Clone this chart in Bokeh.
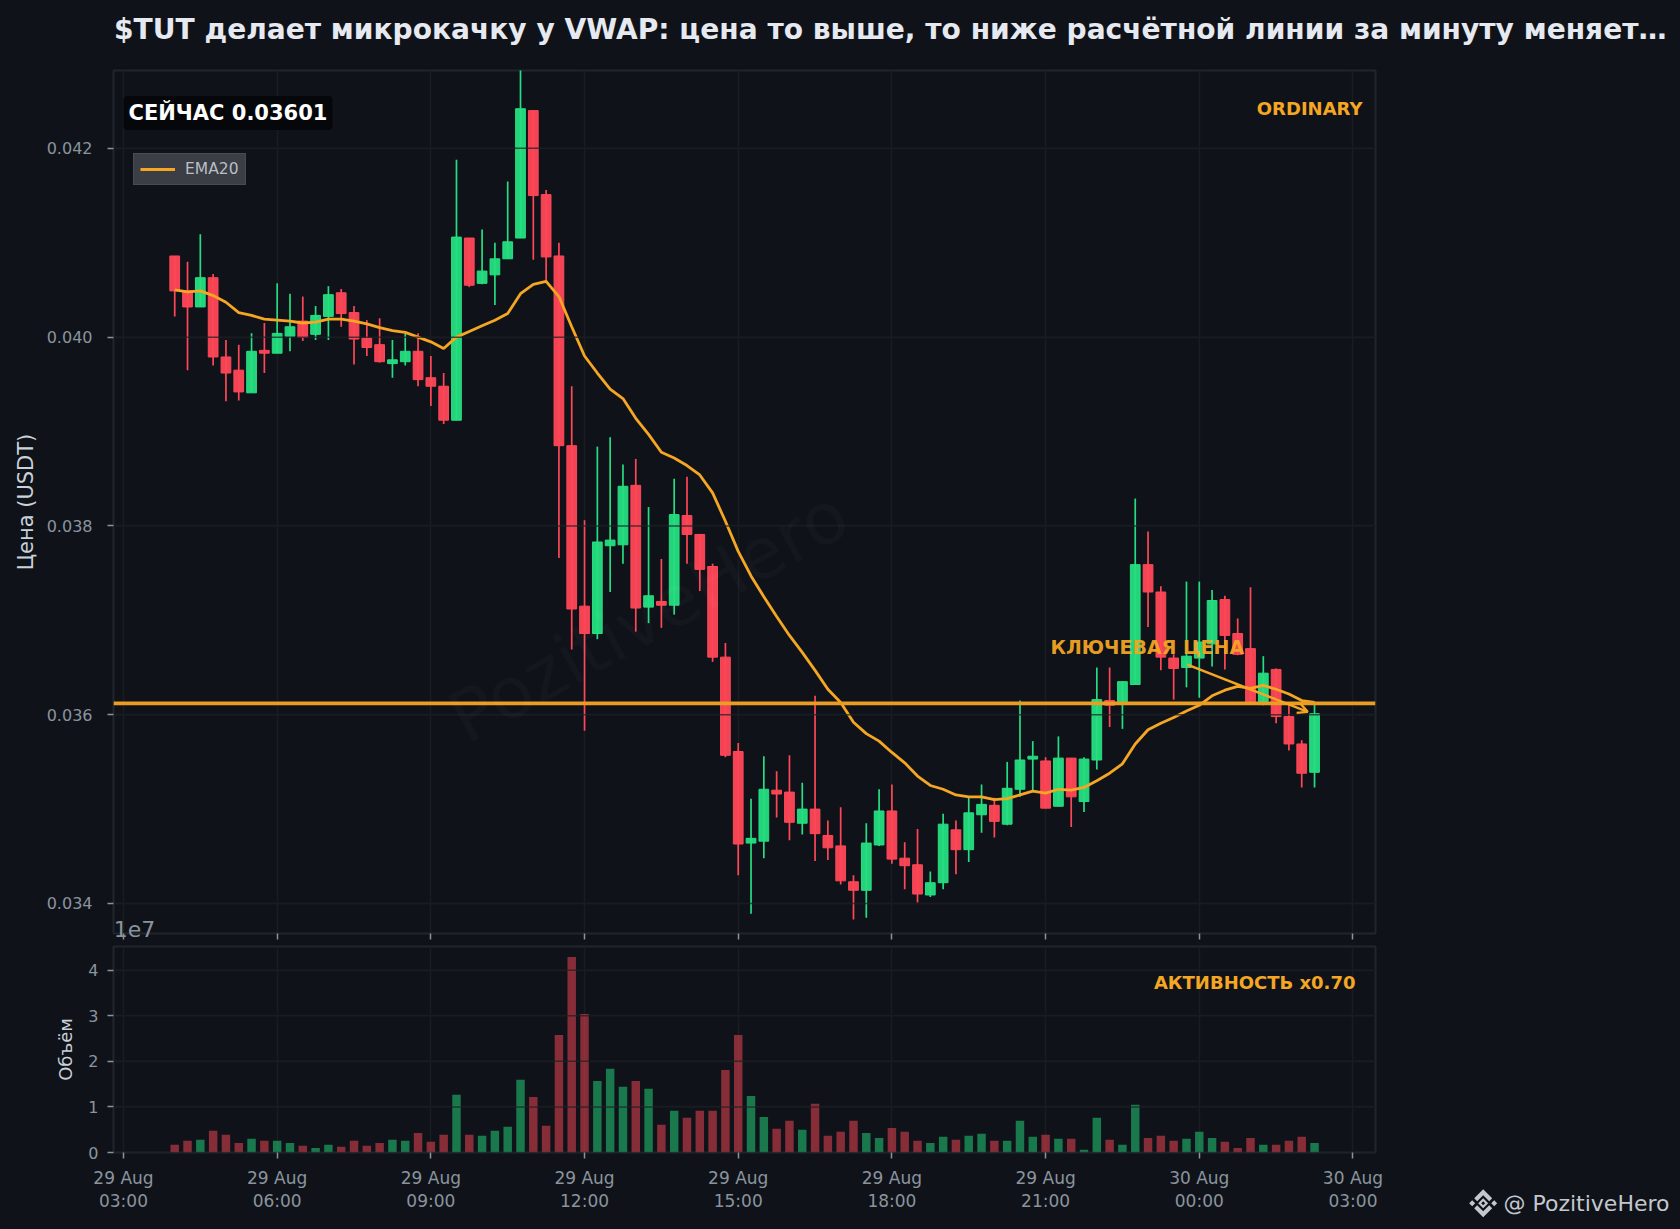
from datetime import datetime
from math import pi
from bokeh.core.properties import value
from bokeh.embed import file_html
from bokeh.layouts import column, row
from bokeh.models import (Arrow, ColumnDataSource, FixedTicker, Label, Legend, LegendItem,
                          OpenHead, Range1d, Span)
from bokeh.plotting import figure
from bokeh.resources import INLINE

# ---- data (prices in 1e-5 USDT, volumes in 1e7) ----
TITLE = "$TUT делает микрокачку у VWAP: цена то выше, то ниже расчётной линии за минуту меняет…"
OPEN = [4086,4049,4032,4063,3979,3965,3941,3986,3983,4001,4017,4003,4022,4047,4026,3999,3992,3972,3974,3985,
        3957,3948,3912,4105,4057,4066,4083,4105,4240,4151,4086,3885,3715,3686,3779,3780,3843,3714,3720,3716,
        3811,3791,3757,3661,3561,3464,3466,3520,3518,3485,3500,3472,3461,3423,3414,3462,3498,3448,3441,3409,
        3422,3478,3457,3494,3504,3484,3521,3553,3551,3503,3554,3508,3552,3615,3612,3632,3759,3730,3660,3650,
        3660,3675,3722,3686,3670,3614,3648,3598,3569,3539]
HIGH = [4086,4080,4109,4067,3997,3992,4004,4015,4057,4046,4043,4033,4054,4051,4033,4018,4020,3997,4004,4004,
        3980,3962,4188,4105,4114,4100,4165,4283,4240,4156,4100,3948,3806,3884,3894,3865,3871,3820,3765,3850,
        3852,3791,3760,3676,3570,3511,3556,3540,3557,3528,3620,3488,3502,3430,3485,3521,3526,3465,3479,3434,
        3495,3488,3512,3526,3512,3550,3615,3572,3555,3577,3554,3555,3650,3650,3635,3829,3794,3736,3664,3741,
        3741,3732,3726,3702,3735,3662,3649,3612,3573,3612]
LOW = [4022,3965,4032,3970,3932,3933,3941,3962,3983,3985,3996,3997,3997,4011,3971,3980,3973,3957,3970,3948,
       3927,3908,3912,4053,4056,4034,4083,4105,4082,4059,3766,3669,3583,3680,3730,3760,3688,3697,3692,3706,
       3760,3731,3656,3555,3430,3389,3448,3491,3467,3473,3445,3446,3420,3383,3385,3461,3442,3415,3401,3407,
       3415,3431,3444,3475,3470,3483,3513,3519,3501,3503,3481,3497,3542,3587,3585,3632,3693,3647,3616,3629,
       3618,3651,3648,3663,3613,3610,3591,3562,3523,3523]
CLOSE = [4049,4032,4063,3979,3962,3942,3985,3983,4004,4011,4000,4023,4045,4025,3998,3989,3974,3976,3985,3955,
         3948,3912,4106,4055,4070,4083,4101,4242,4150,4085,3885,3712,3686,3783,3785,3842,3713,3726,3716,3812,
         3791,3754,3661,3557,3463,3469,3521,3516,3486,3500,3474,3459,3424,3414,3464,3498,3447,3440,3410,3422,
         3484,3457,3496,3505,3487,3522,3552,3556,3501,3554,3513,3553,3616,3610,3635,3759,3730,3661,3649,3662,
         3677,3721,3684,3664,3613,3644,3598,3569,3538,3601]
EMA20 = [4050,4048,4049,4044,4037,4026,4023,4019,4018,4017,4015,4016,4019,4019,4017,4014,4010,4007,4005,4000,
         3995,3988,4000,4006,4012,4018,4025,4046,4056,4059,4043,4011,3980,3962,3945,3935,3914,3897,3878,3872,
         3864,3854,3835,3805,3773,3747,3725,3704,3684,3666,3647,3627,3613,3592,3580,3572,3560,3549,3535,3525,
         3521,3515,3513,3513,3510,3511,3515,3519,3517,3521,3520,3523,3530,3538,3548,3569,3584,3591,3597,3604,
         3610,3620,3626,3630,3628,3631,3627,3622,3615,3613]
VOLUME = [.17,.26,.28,.475,.39,.21,.30,.26,.26,.21,.146,.10,.17,.124,.26,.146,.21,.28,.26,.43,
          .234,.39,1.265,.39,.366,.475,.563,1.594,1.22,.585,2.58,4.29,3.04,1.57,1.835,1.44,1.57,1.40,.607,.914,
          .76,.914,.914,1.81,2.58,1.24,.78,.52,.695,.497,1.07,.366,.453,.695,.43,.32,.54,.453,.256,.21,
          .344,.278,.366,.41,.256,.256,.695,.344,.39,.30,.30,.058,.76,.278,.168,1.046,.32,.366,.256,.30,
          .453,.32,.234,.10,.32,.168,.168,.256,.344,.21]
KEY_PRICE = 3612
ARROW_FROM = (79.07, 3653)
ARROW_TO = (88.47, 3603)
Y_TICKS = [0.034, 0.036, 0.038, 0.040, 0.042]
VOL_TICKS = [0, 1, 2, 3, 4]
X_TICK_LABELS = ["29 Aug\n03:00", "29 Aug\n06:00", "29 Aug\n09:00", "29 Aug\n12:00", "29 Aug\n15:00",
                 "29 Aug\n18:00", "29 Aug\n21:00", "30 Aug\n00:00", "30 Aug\n03:00"]

# ---- colours ----
BG = "#0f1319"
GREEN = "#26de81"
RED = "#ff4757"
ORANGE = "#f5a623"
SPINE = "#21262d"
GRID = "#191d23"
TICK = "#8b949e"
LIGHT = "#c9d1d9"
LOGO = "#c4c8ce"

# ---- geometry (page pixels; the page is drawn from its very corner) ----
LEFT, RIGHT = 113, 1375
TOP, BOTTOM = 70, 933
VTOP, VBOTTOM = 946, 1152
HEAD = TOP - 3
SPLIT = BOTTOM + 12
FIG_W = 1680
FIG_H = 1228
VOL_W = 1400

T0 = datetime(2025, 8, 29, 3, 0)
def ms(dt):
    return (dt - datetime(1970, 1, 1)).total_seconds() * 1000.0
HOUR = 3600000.0
start = ms(T0) + HOUR           # first candle 04:00
x = [start + i * HOUR / 4 for i in range(len(OPEN))]
x0 = ms(T0)
xticks = [x0 + 3 * i * HOUR for i in range(len(X_TICK_LABELS))]
x_range = Range1d(x0 - 0.195 * HOUR, x0 + 24.44 * HOUR)

is_up = [c >= o for o, c in zip(OPEN, CLOSE)]
S = 1e-5
src = ColumnDataSource(dict(
    x=x,
    top=[max(o, c) * S for o, c in zip(OPEN, CLOSE)],
    bottom=[min(o, c) * S for o, c in zip(OPEN, CLOSE)],
    high=[h * S for h in HIGH], low=[l * S for l in LOW],
    ema=[e * S for e in EMA20],
    vol=VOLUME,
    color=[GREEN if u else RED for u in is_up],
))

def style(p, yticks):
    p.background_fill_color = BG
    p.border_fill_color = BG
    p.outline_line_color = SPINE
    p.outline_line_width = 2
    for g in (p.xgrid, p.ygrid):
        g.grid_line_color = GRID
        g.grid_line_width = 1.5
    for a in (p.xaxis, p.yaxis):
        a.axis_line_color = None
        a.major_tick_line_color = TICK
        a.major_tick_line_width = 1.5
        a.major_tick_in = 0
        a.major_tick_out = 6
        a.minor_tick_line_color = None
        a.major_label_text_color = TICK
        a.major_label_text_font = "DejaVu Sans"
    p.xaxis.ticker = FixedTicker(ticks=xticks)
    p.yaxis.ticker = FixedTicker(ticks=yticks)
    p.xgrid.ticker = FixedTicker(ticks=xticks)
    p.ygrid.ticker = FixedTicker(ticks=yticks)

def overgrid(p, yticks):
    # the reference's horizontal grid runs across the candle bodies
    for t in yticks:
        p.add_layout(Span(location=t, dimension="width", line_color=GRID, line_width=1.5,
                          line_alpha=0.7, level="glyph"))

def pixel_figure(x0_, x1_, y0_, y1_):
    # a plain strip whose ranges are page pixels, for text outside the panels
    g = figure(width=x1_ - x0_, height=y1_ - y0_, output_backend="svg", toolbar_location=None,
               x_range=Range1d(x0_, x1_), y_range=Range1d(y1_, y0_),
               x_axis_type=None, y_axis_type=None, min_border=0)
    g.frame_align = False
    g.background_fill_color = BG
    g.border_fill_color = BG
    g.outline_line_color = None
    g.xgrid.visible = False
    g.ygrid.visible = False
    return g

# ---- header ----
h = pixel_figure(0, FIG_W, 0, HEAD)
h.text([113.5], [29], text=[TITLE], text_font=value("DejaVu Sans"), text_font_size="28.1px",
       text_font_style="bold", text_color="#e6e9f0", text_baseline="middle")

# ---- main panel ----
p = figure(width=FIG_W, height=SPLIT - HEAD, output_backend="svg", toolbar_location=None,
           x_range=x_range, y_range=Range1d(0.033682, 0.042825),
           min_border_left=LEFT, min_border_right=FIG_W - RIGHT,
           min_border_top=TOP - HEAD, min_border_bottom=12)
style(p, Y_TICKS)
p.frame_align = False
p.xaxis.major_label_overrides = {t: "" for t in xticks}
p.xaxis.major_label_text_font_size = "1px"
p.xaxis.major_label_standoff = 0
# the axis label is centred on the frame's edge: leading no-break spaces bring its text inside
p.xaxis.axis_label = "\u00a0" * 6 + "1e7"
p.xaxis.axis_label_align = "start"
p.xaxis.axis_label_standoff = -23
p.xaxis.axis_label_text_font = "DejaVu Sans"
p.xaxis.axis_label_text_font_style = "normal"
p.xaxis.axis_label_text_font_size = "22px"
p.xaxis.axis_label_text_color = TICK
p.yaxis.major_label_overrides = {t: f"{t:.3f}" for t in Y_TICKS}
p.yaxis.major_label_text_font_size = "16px"
p.yaxis.major_label_standoff = 15
p.yaxis.axis_label = "Цена (USDT)"
p.yaxis.axis_label_standoff = 6
p.yaxis.axis_label_text_font = "DejaVu Sans"
p.yaxis.axis_label_text_font_style = "normal"
p.yaxis.axis_label_text_font_size = "21px"
p.yaxis.axis_label_text_color = LIGHT

w_body = 0.76 * HOUR / 4
p.segment("x", "low", "x", "high", source=src, line_color="color", line_width=1.7)
p.vbar("x", w_body, "bottom", "top", source=src, fill_color="color", line_color="color", line_width=1, fill_alpha=0.95)
overgrid(p, Y_TICKS)
ema_r = p.line("x", "ema", source=src, line_color=ORANGE, line_width=2.8)
p.add_layout(Span(location=KEY_PRICE * S, dimension="width", line_color="#ea9d20", line_width=3.6))
p.add_layout(Arrow(end=OpenHead(size=10, line_color=ORANGE, line_width=2.4),
                   x_start=start + ARROW_FROM[0] * HOUR / 4, y_start=ARROW_FROM[1] * S,
                   x_end=start + ARROW_TO[0] * HOUR / 4, y_end=ARROW_TO[1] * S,
                   line_color=ORANGE, line_width=2.4))

leg = Legend(items=[LegendItem(label="EMA20", renderers=[ema_r])], location=(20, 748), margin=0, padding=6,
             spacing=0, glyph_width=35, glyph_height=16, label_standoff=10,
             background_fill_color="#3b3e44", background_fill_alpha=1,
             border_line_color="#55595f", border_line_width=1,
             label_text_color="#b9bec5", label_text_font="DejaVu Sans", label_text_font_size="15.5px")
p.add_layout(leg)

def label(fig, px, py, text, frame_left, frame_bottom, **kw):
    kw.setdefault("text_font", "DejaVu Sans")
    kw.setdefault("text_baseline", "middle")
    l = Label(x=px - frame_left, y=frame_bottom - py, x_units="screen", y_units="screen", text=text, **kw)
    fig.add_layout(l)
    return l

m = dict(frame_left=LEFT, frame_bottom=BOTTOM)
label(p, 123, 112.5, "СЕЙЧАС 0.03601", text_font_size="21px", text_font_style="bold", text_color="#ffffff",
      background_fill_color="#05070a", background_fill_alpha=1, padding=5, border_radius=4, **m)
label(p, 1362, 108, "ORDINARY", text_font_size="18px", text_font_style="bold", text_color=ORANGE, text_align="right", **m)
label(p, 1050, 646.5, "КЛЮЧЕВАЯ ЦЕНА", text_font_size="19px", text_font_style="bold", text_color=ORANGE, text_alpha=0.95, **m)
label(p, 648, 616, "PozitiveHero", text_font_size="71px", text_color="#ffffff", text_alpha=0.025,
      angle=29 * pi / 180, text_align="center", **m)

# ---- volume panel ----
v = figure(width=VOL_W, height=FIG_H - SPLIT, output_backend="svg", toolbar_location=None,
           x_range=x_range, y_range=Range1d(0, 4.52),
           min_border_left=LEFT, min_border_right=VOL_W - RIGHT,
           min_border_top=VTOP - SPLIT, min_border_bottom=FIG_H - VBOTTOM)
style(v, VOL_TICKS)
v.frame_align = False
v.xaxis.major_label_overrides = dict(zip(xticks, X_TICK_LABELS))
v.xaxis.major_label_text_font_size = "17px"
v.xaxis.major_label_text_line_height = 1.15
v.xaxis.major_label_standoff = 9
v.yaxis.major_label_text_font_size = "16px"
v.yaxis.major_label_standoff = 9
v.yaxis.axis_label = "Объём"
v.yaxis.axis_label_standoff = 9
v.yaxis.axis_label_text_font = "DejaVu Sans"
v.yaxis.axis_label_text_font_style = "normal"
v.yaxis.axis_label_text_font_size = "18px"
v.yaxis.axis_label_text_color = LIGHT
v.vbar("x", 0.66 * HOUR / 4, 0, "vol", source=src, fill_color="color", line_color=None, fill_alpha=0.5)
overgrid(v, VOL_TICKS)

n = dict(frame_left=LEFT, frame_bottom=VBOTTOM)
label(v, 1355, 982, "АКТИВНОСТЬ x0.70", text_font_size="18px", text_font_style="bold", text_color=ORANGE, text_align="right", **n)

# ---- footer ----
f = pixel_figure(VOL_W, FIG_W, SPLIT, FIG_H)
f.text([1503], [1203], text=["@ PozitiveHero"], text_font=value("DejaVu Sans"), text_font_size="22px",
       text_color=LOGO, text_baseline="middle")
cx, cy = 1482.7, 1202.7
def poly(points, color=LOGO):
    f.patch([cx + a for a, b in points], [cy + b for a, b in points], fill_color=color, line_color=None)
poly([(0, -14), (9, -5), (6, -2), (0, -8), (-6, -2), (-9, -5)])
poly([(0, 14), (9, 5), (6, 2), (0, 8), (-6, 2), (-9, 5)])
poly([(-11, -3), (-8, 0), (-11, 3), (-14, 0)])
poly([(11, -3), (14, 0), (11, 3), (8, 0)])
poly([(0, -5), (5, 0), (0, 5), (-5, 0)])
poly([(0, -2), (2, 0), (0, 2), (-2, 0)], BG)

page = column(h, p, row(v, f, spacing=0), spacing=0)
html = file_html(page, INLINE, title="TUT")
html = html.replace("<head>", "<head><style>html,body{background:#0f1319;overflow:hidden;}</style>", 1)
open("out.html", "w").write(html)
